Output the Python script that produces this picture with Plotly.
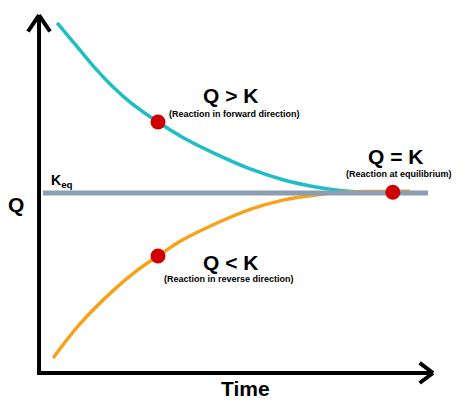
import plotly.graph_objects as go

# values (time, Q)
t_forward = [0.46, 1.04, 1.47, 1.88, 2.31, 3.02, 3.65, 4.52, 5.36, 6.19, 7.06, 7.64, 8.30, 9.42]
q_forward = [9.78, 9.02, 8.46, 7.99, 7.57, 7.01, 6.58, 6.10, 5.70, 5.40, 5.19, 5.10, 5.05, 5.03]

t_reverse = [0.36, 1.04, 1.88, 2.45, 3.02, 3.65, 4.52, 5.36, 6.19, 7.06, 7.56, 8.30, 9.42]
q_reverse = [0.42, 1.37, 2.30, 2.83, 3.27, 3.72, 4.19, 4.57, 4.83, 4.98, 5.04, 5.07, 5.08]

keq = 5.03
keq_t = [0.1, 9.87]

dot_t = [3.02, 3.02, 8.98]
dot_q = [7.01, 3.27, 5.05]

T_MAX = 10
Q_MAX = 10

FONT = "Liberation Sans, Arial, sans-serif"

fig = go.Figure()

fig.add_trace(go.Scatter(x=t_forward, y=q_forward, mode="lines",
                         line=dict(color="#1FBEC5", width=3.5, shape="spline", smoothing=1)))
fig.add_trace(go.Scatter(x=t_reverse, y=q_reverse, mode="lines",
                         line=dict(color="#F6A31C", width=3.5, shape="spline", smoothing=1)))
fig.add_trace(go.Scatter(x=keq_t, y=[keq, keq], mode="lines",
                         line=dict(color="#8A9DB2", width=5)))
fig.add_trace(go.Scatter(x=dot_t, y=dot_q, mode="markers",
                         marker=dict(color="#D00000", size=15)))

# axes with chevron arrow heads
ax_line = dict(color="black", width=4)
fig.add_shape(type="line", x0=0, y0=-0.05, x1=0, y1=Q_MAX, line=ax_line)
fig.add_shape(type="line", x0=-0.05, y0=0, x1=T_MAX, y1=0, line=ax_line)
for dx in (-0.28, 0.28):
    fig.add_shape(type="line", x0=0, y0=Q_MAX, x1=dx, y1=Q_MAX - 0.46, line=ax_line)
for dy in (-0.28, 0.28):
    fig.add_shape(type="line", x0=T_MAX, y0=0, x1=T_MAX - 0.34, y1=dy, line=ax_line)

labels = [
    (4.85, 7.74, "<b>Q &gt; K</b>", 21),
    (4.95, 7.23, "<b>(Reaction in forward direction)</b>", 9),
    (9.06, 6.06, "<b>Q = K</b>", 21),
    (9.14, 5.56, "<b>(Reaction at equilibrium)</b>", 9),
    (4.85, 3.10, "<b>Q &lt; K</b>", 21),
    (4.82, 2.63, "<b>(Reaction in reverse direction)</b>", 9),
    (-0.58, 4.72, "<b>Q</b>", 21),
    (5.23, -0.42, "<b>Time</b>", 21),
]
for x, y, txt, size in labels:
    fig.add_annotation(x=x, y=y, text=txt, showarrow=False,
                       font=dict(family=FONT, size=size, color="black"))

fig.add_annotation(x=0.26, y=5.36, text="<b>K<sub>eq</sub></b>", showarrow=False,
                   xanchor="left", font=dict(family=FONT, size=14, color="black"))

fig.update_layout(
    width=474, height=410,
    margin=dict(l=0, r=0, t=0, b=0),
    plot_bgcolor="white", paper_bgcolor="white",
    showlegend=False,
    xaxis=dict(range=[-0.99, 11.04], visible=False, fixedrange=True),
    yaxis=dict(range=[-1.034, 10.42], visible=False, fixedrange=True),
)

fig.write_html("out.html", config={"displayModeBar": False},
               post_script="document.body.style.margin = '0';")
